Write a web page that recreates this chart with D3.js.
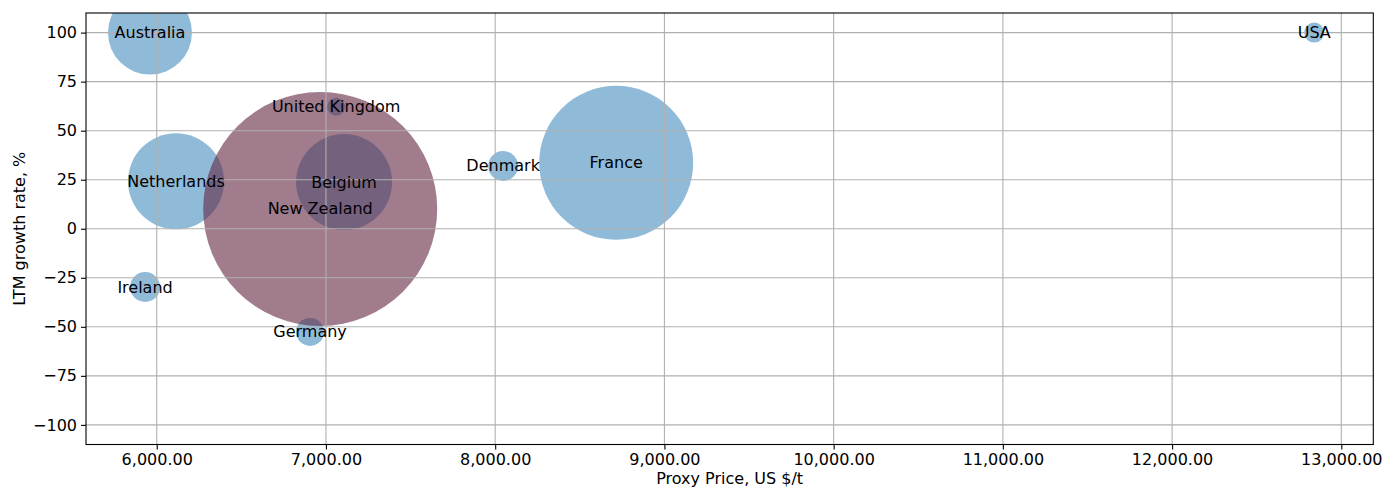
<!DOCTYPE html>
<html>
<head>
<meta charset="utf-8">
<script src="https://cdn.jsdelivr.net/npm/d3@7"></script>
<style>
  html, body { margin: 0; padding: 0; background: #fff; }
  svg { display: block; font-family: "DejaVu Sans", sans-serif; }
</style>
</head>
<body>
<svg id="chart" width="1386" height="488"></svg>
<script>
// ---- data ----
const countries = ["Australia", "Netherlands", "United Kingdom", "Belgium", "Denmark", "France", "Ireland", "Germany", "USA", "New Zealand"];
const proxyPrice = [5960, 6114, 7060, 7107, 8047, 8715, 5931, 6906, 12840, 6966];
const growthRate = [100, 24.2, 62.2, 23.8, 32, 33.6, -29.7, -52.6, 100, 10.1];
const volume = [1764, 2304, 81, 2304, 225, 5929, 225, 196, 100, 13689];
const highlighted = ["New Zealand"];
const xTicks = [6000, 7000, 8000, 9000, 10000, 11000, 12000, 13000];
const yTicks = [-100, -75, -50, -25, 0, 25, 50, 75, 100];
const xLabel = "Proxy Price, US $/t";
const yLabel = "LTM growth rate, %";

// ---- layout ----
const margin = {left: 86, top: 13, right: 1386 - 1373.3, bottom: 488 - 444.5};
const W = 1386, H = 488;
const svg = d3.select("#chart");

const x = d3.scaleLinear().domain([5582, 13189]).range([margin.left, W - margin.right]);
const y = d3.scaleLinear().domain([-110, 110]).range([H - margin.bottom, margin.top]);
const r = d3.scaleSqrt().domain([0, d3.max(volume)]).range([0, 117]);

const data = countries.map((c, i) => ({c, x: proxyPrice[i], y: growthRate[i], v: volume[i], hl: highlighted.includes(c)}));

svg.append("defs").append("clipPath").attr("id", "clip")
  .append("rect")
  .attr("x", margin.left).attr("y", margin.top)
  .attr("width", W - margin.right - margin.left)
  .attr("height", H - margin.bottom - margin.top);

// bubbles (blue first, highlighted on top)
const ordered = data.filter(d => !d.hl).concat(data.filter(d => d.hl));
svg.append("g").attr("clip-path", "url(#clip)")
  .selectAll("circle").data(ordered).join("circle")
  .attr("cx", d => x(d.x)).attr("cy", d => y(d.y)).attr("r", d => r(d.v))
  .attr("fill", d => d.hl ? "rgb(97,37,63)" : "#1f77b4")
  .attr("fill-opacity", d => d.hl ? 0.6 : 0.5);

// grid (drawn above the bubbles, as in the reference)
const grid = svg.append("g").attr("stroke", "#b0b0b0").attr("stroke-width", 1.1);
grid.selectAll("line.gx").data(xTicks).join("line").attr("class", "gx")
  .attr("x1", d => x(d)).attr("x2", d => x(d))
  .attr("y1", margin.top).attr("y2", H - margin.bottom);
grid.selectAll("line.gy").data(yTicks).join("line").attr("class", "gy")
  .attr("y1", d => y(d)).attr("y2", d => y(d))
  .attr("x1", margin.left).attr("x2", W - margin.right);

// axes
const fmtX = d3.format(",.2f");
const xAxis = svg.append("g").attr("transform", `translate(0,${H - margin.bottom})`)
  .call(d3.axisBottom(x).tickValues(xTicks).tickFormat(fmtX).tickSizeOuter(0).tickSize(5).tickPadding(4));
const yAxis = svg.append("g").attr("transform", `translate(${margin.left},0)`)
  .call(d3.axisLeft(y).tickValues(yTicks).tickFormat(d3.format("d")).tickSizeOuter(0).tickSize(5).tickPadding(4));
[xAxis, yAxis].forEach(a => {
  a.select(".domain").remove();
  a.selectAll("line").attr("stroke", "#000").attr("stroke-width", 1.1);
  a.selectAll("text").attr("font-size", 16).attr("font-family", "DejaVu Sans").attr("fill", "#000");
});
xAxis.selectAll("text").attr("dy", "0.71em").attr("y", 9);

// frame
svg.append("rect")
  .attr("x", margin.left).attr("y", margin.top)
  .attr("width", W - margin.right - margin.left)
  .attr("height", H - margin.bottom - margin.top)
  .attr("fill", "none").attr("stroke", "#000").attr("stroke-width", 1.1);

// labels
svg.append("g").selectAll("text").data(data).join("text")
  .attr("x", d => x(d.x)).attr("y", d => y(d.y))
  .attr("text-anchor", "middle").attr("dominant-baseline", "central")
  .attr("font-size", 16).attr("fill", "#000")
  .text(d => d.c);

// axis titles
svg.append("text")
  .attr("x", (margin.left + W - margin.right) / 2).attr("y", 484)
  .attr("text-anchor", "middle").attr("font-size", 16).attr("fill", "#000")
  .text(xLabel);
svg.append("text")
  .attr("transform", `translate(25,${(margin.top + H - margin.bottom) / 2}) rotate(-90)`)
  .attr("text-anchor", "middle").attr("font-size", 16).attr("fill", "#000")
  .text(yLabel);
</script>
</body>
</html>
